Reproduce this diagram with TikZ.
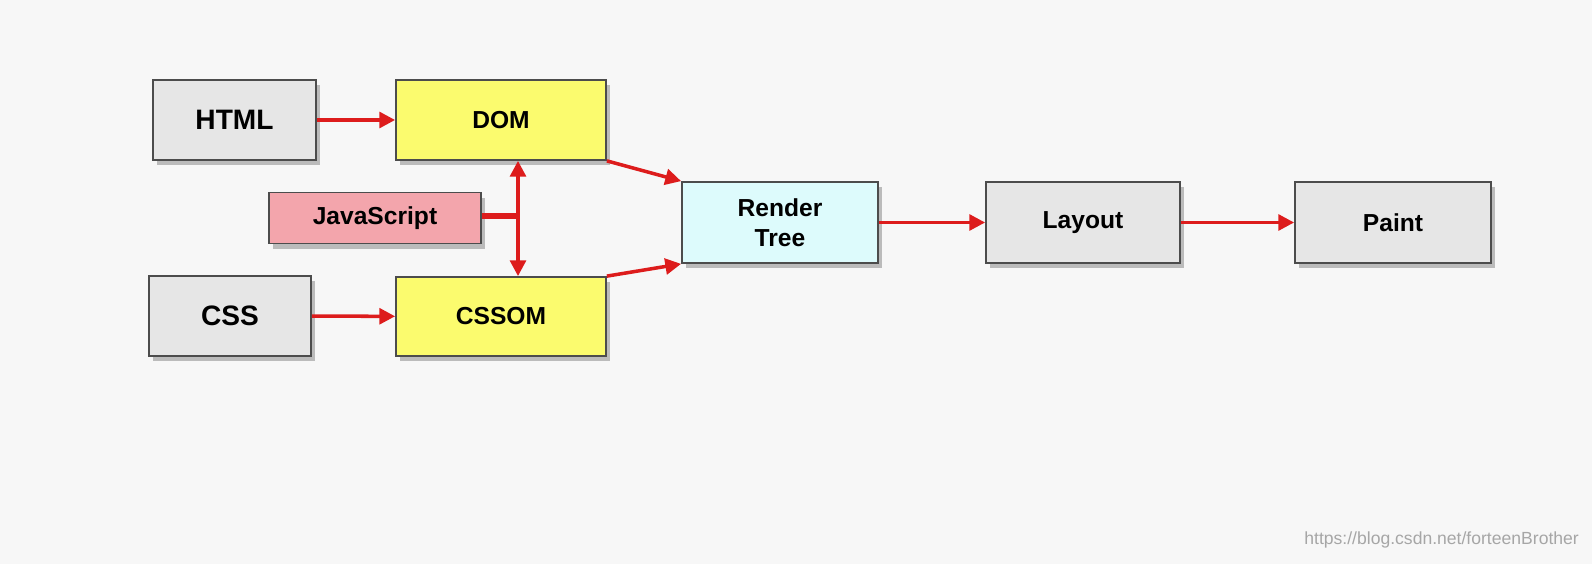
\documentclass[tikz,border=0pt]{standalone}
\usepackage{fontspec}
\setmainfont{Liberation Sans}
\usetikzlibrary{arrows.meta,shadows}
\definecolor{bg}{HTML}{F7F7F7}
\definecolor{gbox}{HTML}{E6E6E6}
\definecolor{ybox}{HTML}{FBFB6E}
\definecolor{pbox}{HTML}{F3A5AC}
\definecolor{cbox}{HTML}{DDFBFC}
\definecolor{arr}{HTML}{DD1C1C}
\begin{document}
\begin{tikzpicture}[x=0.02cm,y=-0.02cm,
  box/.style={draw=black!70,line width=1pt,inner sep=0pt,font=\bfseries\fontsize{14}{17}\selectfont,align=center,
    drop shadow={shadow xshift=2pt,shadow yshift=-3pt,opacity=0.5}},
  big/.style={font=\bfseries\fontsize{16}{19}\selectfont},
  ar/.style={draw=arr,line width=2pt,-{Triangle[length=9pt,width=9pt]}}]
\fill[bg] (0,0) rectangle (1592,564);
\useasboundingbox (0,0) rectangle (1592,564);
\node[box,big,fill=gbox,minimum width=163*0.02cm,minimum height=80*0.02cm] (html) at (234.5,120) {HTML};
\node[box,fill=ybox,minimum width=210*0.02cm,minimum height=80*0.02cm] (dom) at (501,120) {DOM};
\node[box,fill=pbox,minimum width=212*0.02cm,minimum height=51*0.02cm] (js) at (375,218) {JavaScript};
\node[box,big,fill=gbox,minimum width=162*0.02cm,minimum height=80*0.02cm] (css) at (230,316) {CSS};
\node[box,fill=ybox,minimum width=210*0.02cm,minimum height=79*0.02cm] (cssom) at (501,316.5) {CSSOM};
\node[box,fill=cbox,minimum width=196*0.02cm,minimum height=81*0.02cm] (rt) at (780,222.5) {Render\\Tree};
\node[box,fill=gbox,minimum width=194*0.02cm,minimum height=81*0.02cm] (lay) at (1083,222.5) {Layout};
\node[box,fill=gbox,minimum width=196*0.02cm,minimum height=81*0.02cm] (paint) at (1393,222.5) {Paint};
\draw[ar] (html) -- (dom);
\draw[ar] (css) -- (cssom);
\draw[ar] (dom.south east) -- (rt.north west);
\draw[ar] (cssom.north east) -- (rt.south west);
\draw[ar] (rt) -- (lay);
\draw[ar] (lay) -- (paint);
\coordinate (jv) at (518,216);
\draw[draw=arr,line width=2pt,{Triangle[length=9pt,width=9pt]}-{Triangle[length=9pt,width=9pt]}] (dom.south -| jv) -- (cssom.north -| jv);
\draw[draw=arr,line width=3pt] (js.east |- jv) -- (jv);
\node[text=black!35,font=\fontsize{10}{12}\selectfont,anchor=east] (wm) at (1585,540) {https://blog.csdn.net/forteenBrother};
\end{tikzpicture}
\end{document}
